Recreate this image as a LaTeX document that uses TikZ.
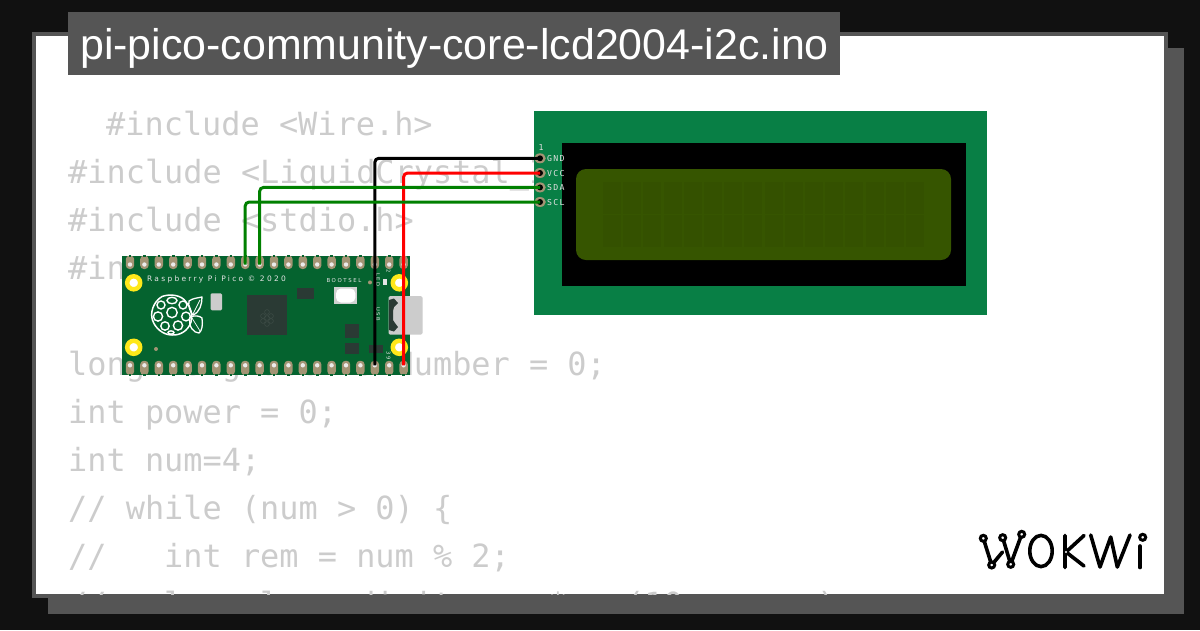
\documentclass[tikz,border=0pt]{standalone}
\usepackage{fontspec}
\setmainfont{Liberation Sans}
\newfontfamily\codefont{DejaVu Sans Mono}
\newfontfamily\silk[LetterSpace=30]{DejaVu Sans}
\newfontfamily\silkm[LetterSpace=15]{DejaVu Sans Mono}
\definecolor{bgdark}{HTML}{111111}
\definecolor{framegray}{HTML}{555555}
\definecolor{codegray}{HTML}{CCCCCC}
\definecolor{picogreen}{HTML}{05632F}
\definecolor{padtan}{HTML}{A39474}
\definecolor{chipdark}{HTML}{2A3A34}
\definecolor{lcdgreen}{HTML}{087F45}
\definecolor{lcdpanel}{HTML}{365500}
\definecolor{lcdcell}{HTML}{345100}
\definecolor{wiregreen}{HTML}{008000}
\definecolor{holeyellow}{HTML}{FFE81A}
\tikzset{
  code/.style={anchor=base west,inner sep=0pt,text=codegray,font=\codefont\fontsize{31.9}{36}\selectfont},
  pinhole/.style={circle,fill=white!92!black,inner sep=0pt,minimum size=4.4pt},
  padslot/.style={fill=padtan,rounded corners=3.6pt},
  mount/.style={circle,fill=white,draw=holeyellow,line width=4.5pt,inner sep=0pt,minimum size=13pt},
  darkpart/.style={fill=chipdark},
  wire/.style={line width=3pt,rounded corners=4pt},
  lcdpad/.style={ellipse,fill=padtan,inner sep=0pt,minimum width=11.5pt,minimum height=10pt},
  lcdlabel/.style={anchor=base west,inner sep=0pt,text=white!88!black,font=\silkm\fontsize{8.2}{8.2}\selectfont},
  pcblabel/.style={inner sep=0pt,text=white!90!black,font=\silk\fontsize{6}{7}\selectfont},
  berry/.style={draw=white,line width=1.4pt},
  logo/.style={draw=black,line width=3.6pt,line cap=round,line join=round},
  logoring/.style={circle,draw=black,fill=white,line width=3pt,inner sep=0pt,minimum size=6pt}
}
\usetikzlibrary{shapes.geometric}
\begin{document}
\begin{tikzpicture}[x=1pt,y=-1pt]
\useasboundingbox (0,0) rectangle (1200,630);
% frame
\fill[bgdark] (0,0) rectangle (1200,630);
\fill[framegray] (48,48) rectangle (1184,614);
\fill[framegray] (32,32) rectangle (1168,598);
\fill[white] (36,36) rectangle (1164,594);
% code
\begin{scope}
\clip (36,36) rectangle (1164,594);
\node[code] (c1) at (106,135) {\#include <Wire.h>};
\node[code] (c2) at (68,183) {\#include <LiquidCrystal\_I2C.h>};
\node[code] (c3) at (68,231) {\#include <stdio.h>};
\node[code] (c4) at (68,279) {\#in};
\node[code] (c6) at (68,375) {long long decimalNumber = 0;};
\node[code] (c7) at (68,423) {int power = 0;};
\node[code] (c8) at (68,471) {int num=4;};
\node[code] (c9) at (68,519) {// while (num > 0) \{};
\node[code] (c10) at (68,567) {//\ \ \ int rem = num \% 2;};
\node[code] (c11) at (68,615) {//\ \ \ long long digit = r *pow(10, power);};
\end{scope}
% title
\fill[framegray] (68,12) rectangle (840,75);
\node[anchor=base west,inner sep=0pt,text=white,font=\fontsize{42.9}{46}\selectfont] (title) at (80,59) {pi-pico-community-core-lcd2004-i2c.ino};
% LCD
\fill[lcdgreen] (534,111) rectangle (987,315);
\fill[black] (562,143) rectangle (966,286);
\fill[lcdpanel,rounded corners=10pt] (576,169) rectangle (951,260);
\foreach \c in {0,...,15}{
  \pgfmathsetmacro\cx{603+20.2*\c}
  \fill[lcdcell] (\cx,182) rectangle +(18,31.5);
  \fill[lcdcell] (\cx,215) rectangle +(18,31.5);
}
\node[lcdpad] (gnd) at (540,158.3) {};
\node[lcdpad] (vcc) at (540,173) {};
\node[lcdpad] (sda) at (540,187.4) {};
\node[lcdpad] (scl) at (540,202) {};
\foreach \n in {gnd,vcc,sda,scl}{\fill[black] (\n.center) circle (3pt);}
\node[lcdlabel] (l1) at (538.5,150) {1};
\node[lcdlabel] (lgnd) at (547,161) {GND};
\node[lcdlabel] (lvcc) at (547,176) {VCC};
\node[lcdlabel] (lsda) at (547,190.3) {SDA};
\node[lcdlabel] (lscl) at (547,205) {SCL};
% Pico
\fill[picogreen] (122.3,256) rectangle (410,374.7);
\foreach \i in {1,...,20}{
  \pgfmathsetmacro\px{130+14.4*(\i-1)}
  \fill[padslot] (\px-4.2,255.6) rectangle (\px+4.2,269);
  \fill[padslot] (\px-4.2,360.8) rectangle (\px+4.2,375);
  \fill[picogreen] (\px-1.3,255) rectangle (\px+1.3,256.8);
  \fill[picogreen] (\px-1.3,373.9) rectangle (\px+1.3,375.6);
  \node[pinhole] (pt\i) at (\px,264.5) {};
  \node[pinhole] (pb\i) at (\px,365.3) {};
}
\node[mount] (m1) at (133.7,282.8) {};
\node[mount] (m2) at (133.7,347.3) {};
\node[mount] (m3) at (399.3,282.8) {};
\node[mount] (m4) at (399.3,347.3) {};
\node[pcblabel,anchor=base west,font=\silk\fontsize{7.5}{8}\selectfont] (brand) at (147,281) {Raspberry Pi Pico © 2020};
% chip
\fill[chipdark] (246.7,295) rectangle (286.7,335);
\foreach \a/\b in {267/312,263/316,271/316,267/318,263/321,271/321,267/324}{\draw[chipdark!90!white,line width=.5pt] (\a,\b) circle (2.4pt);}
\fill[darkpart] (297,287.7) rectangle (314,299.3);
\fill[darkpart] (344.7,324) rectangle (359,338);
\fill[darkpart] (344.7,343.3) rectangle (359,354.3);
\fill[darkpart] (369,345) rectangle (383.3,353.3);
\fill[codegray,rounded corners=1.2pt] (210.7,293.3) rectangle (222,310.3);
% bootsel
\fill[white!82!black] (334.3,286.7) rectangle (357,304);
\fill[white,rounded corners=5pt] (336,288.5) rectangle (355.4,302.5);
\node[pcblabel,font=\silk\fontsize{5.4}{6}\selectfont] (bootsel) at (344,281) {BOOTSEL};
\fill[padtan] (370,282.4) circle (2pt);
\fill[padtan] (156,349) circle (2pt);
\fill[white!90!black] (383,279.3) rectangle (387.3,285.3);
\node[pcblabel,rotate=-90,font=\silk\fontsize{5.2}{6}\selectfont] (led) at (378,280) {LED};
\node[pcblabel,rotate=-90,font=\silk\fontsize{5.2}{6}\selectfont] (usb) at (378,314.5) {USB};
\node[pcblabel,rotate=-90,font=\silk\fontsize{5.2}{6}\selectfont] (p2) at (388.5,271) {2};
\node[pcblabel,rotate=-90,font=\silk\fontsize{5.2}{6}\selectfont] (p39) at (388.5,356) {39};
% usb
\fill[codegray,rounded corners=1.5pt] (388.5,296) rectangle (422.5,334.5);
\fill[chipdark] (389,300) -- (394,298.5) -- (398,303) -- (394,307) -- (393,311) -- (393,320) -- (395,323) -- (398,327) -- (394,331.5) -- (389,330) -- cycle;
% raspberry logo
\draw[white,line width=1.5pt,line join=round] (162,296.5) .. controls (170,293.5) and (182,295) .. (186,302) .. controls (191,307) and (193,315) .. (191,322) .. controls (188,331) and (180,335.5) .. (172,335) .. controls (163,335) and (155,328) .. (152.5,320) .. controls (150,313) and (153,302) .. (162,296.5) -- cycle;
\draw[berry] (172,300.5) ellipse (5pt and 3.2pt);
\draw[berry] (161,305) circle (4pt);
\draw[berry] (183,305) circle (4pt);
\draw[berry] (172,312.5) circle (5.2pt);
\draw[berry] (158,316.5) circle (4.6pt);
\draw[berry] (186,316.5) circle (4.4pt);
\draw[berry] (165,326) circle (4.2pt);
\draw[berry] (178,325.5) circle (4.6pt);
\draw[berry] (171,332.5) ellipse (3pt and 1.6pt);
\draw[white,line width=1.3pt,line join=round] (189,301) .. controls (193,298) and (198,298) .. (202,297) .. controls (202,304) and (200,312) .. (193,315) .. controls (190,312) and (188,306) .. (189,301) -- cycle;
\draw[white,line width=.7pt] (193,314) -- (200,300);
\draw[white,line width=1.3pt,line join=round] (190,317) .. controls (195,315) and (200,316) .. (202,318) .. controls (203,325) and (202,331) .. (199,333) .. controls (194,333) and (188,327) .. (190,317) -- cycle;
\draw[white,line width=.7pt] (192,318) -- (200,331);
% wires
\draw[wire,black] (pb18.center) |- (gnd.center);
\draw[wire,red] (pb20.center) |- (vcc.center);
\draw[wire,wiregreen] (pt10.center) |- (sda.center);
\draw[wire,wiregreen] (pt9.center) |- (scl.center);
% Wokwi logo
\draw[logo] (983.3,538.3) -- (991.7,565) -- (1002.5,552) (1002.7,537.7) -- (1010.7,564.3) -- (1021.7,534.3);
\node[logoring] (w1) at (983.3,538.3) {};
\node[logoring] (w2) at (1002.7,537.7) {};
\node[logoring] (w3) at (1021.7,534.3) {};
\node[logoring] (w4) at (991.7,565) {};
\node[logoring] (w5) at (1010.7,564.3) {};
\draw[logo] (1041,551) ellipse (11.2pt and 15.6pt);
\draw[logo] (1065,535.5) -- (1065,567.5) (1084,535.5) -- (1066,552) -- (1084,566);
\node[circle,fill=white,inner sep=0pt,minimum size=2.4pt] (k) at (1066,552) {};
\draw[logo] (1090.7,535) -- (1100,567) -- (1110.7,537) -- (1117.3,567) -- (1130,535);
\draw[logo] (1140,546) -- (1140,567.5);
\node[logoring] (i) at (1142.7,537.3) {};
\end{tikzpicture}
\end{document}
